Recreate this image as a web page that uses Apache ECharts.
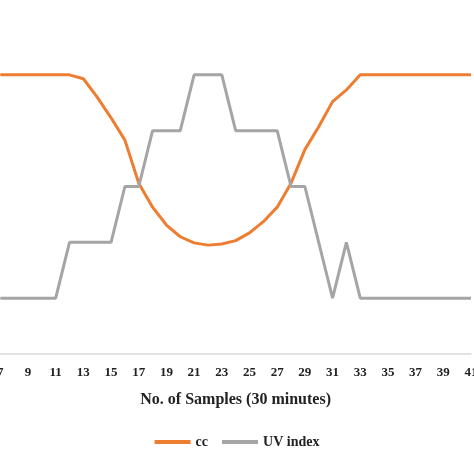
<!DOCTYPE html><html><head><meta charset="utf-8"><script src="https://cdn.jsdelivr.net/npm/echarts@6/dist/echarts.min.js"></script></head><body style="margin:0"><div id="c" style="width:474px;height:474px"></div><script>
const categories=[];for(let i=7;i<=41;i++)categories.push(String(i));
const cc=[5,5,5,5,5,5,4.93,4.6,4.23,3.83,3.06,2.63,2.31,2.1,1.99,1.95,1.97,2.03,2.17,2.37,2.63,3.06,3.66,4.07,4.52,4.73,5,5,5,5,5,5,5,5,5];
const uv=[1,1,1,1,1,2,2,2,2,3,3,4,4,4,5,5,5,4,4,4,4,3,3,2,1,2,1,1,1,1,1,1,1,1,1];
const F='"Liberation Serif",serif';
const ch=echarts.init(document.getElementById('c'));
ch.setOption({animation:false,
grid:{left:0.3,right:3,top:19,bottom:120,outerBoundsMode:'none',containLabel:false},
legend:{bottom:20,left:'center',itemWidth:36,itemHeight:4,itemGap:14,icon:'rect',textStyle:{fontFamily:F,fontWeight:'bold',fontSize:14,color:'#222'},data:['cc','UV index']},
xAxis:{type:'category',boundaryGap:false,data:categories,name:'No. of Samples (30 minutes)',nameLocation:'middle',nameGap:38,
nameTextStyle:{fontFamily:F,fontWeight:'bold',fontSize:16,color:'#222'},
axisLine:{lineStyle:{color:'#d9d9d9',width:1.5}},axisTick:{show:false},
axisLabel:{interval:1,fontFamily:F,fontWeight:'bold',fontSize:13,color:'#222',margin:12}},
yAxis:{type:'value',min:0,max:6,show:false,splitLine:{show:false}},
series:[{name:'cc',type:'line',data:cc,symbol:'none',lineStyle:{color:'#ED7D31',width:3},itemStyle:{color:'#ED7D31'}},
{name:'UV index',type:'line',data:uv,symbol:'none',lineStyle:{color:'#A5A5A5',width:3},itemStyle:{color:'#A5A5A5'}}]});
</script></body></html>
